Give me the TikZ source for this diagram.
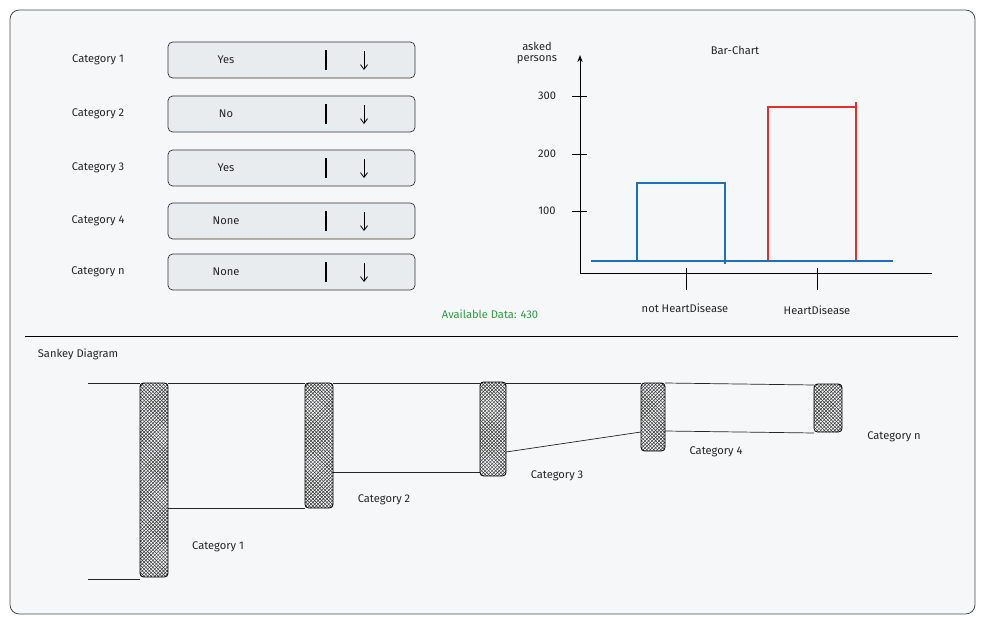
\documentclass[tikz,border=0pt]{standalone}
\usepackage{fontspec}
\setmainfont{Fira Sans}
\usetikzlibrary{patterns,arrows.meta}
\definecolor{bg}{HTML}{F6F7F8}
\definecolor{boxfill}{HTML}{E9ECEF}
\definecolor{blu}{HTML}{1971C2}
\definecolor{rd}{HTML}{E03131}
\definecolor{grn}{HTML}{2F9E44}
\begin{document}
\begin{tikzpicture}[x=0.03cm,y=-0.03cm,
  txt/.style={font=\fontsize{9.5}{11}\selectfont,text=black!85},
  dd/.style={draw=black!80,fill=boxfill,rounded corners=4pt,line width=0.6pt},
  sbar/.style={draw=black,rounded corners=3pt,line width=0.7pt,pattern=crosshatch,pattern color=black!80},
  ln/.style={draw=black!85,line width=0.6pt}]
\useasboundingbox (0,0) rectangle (990,629);
\draw[draw=black!70,fill=bg,rounded corners=8pt,line width=0.7pt] (10,10) rectangle (975,614);
% dropdowns
\foreach \y/\c/\v [count=\i] in {60/1/Yes,114/2/No,168/3/Yes,221/4/None,272/n/None}{
  \node[dd,minimum width=247*0.03cm,minimum height=36*0.03cm] (d\i) at (291.5,\y) {};
  \node[txt] (l\i) at (98,\y) {Category \c};
  \node[txt] (v\i) at (226,\y) {\v};
  \draw[line width=0.9pt] (326,\y-10) -- (326,\y+10);
  \draw[-{Straight Barb[length=4pt,width=6pt]},line width=0.7pt] (364,\y-9) -- (364,\y+10);
}
% chart
\draw[-{Stealth[length=6pt]},line width=0.8pt] (580,273) -- (580,55);
\draw[line width=0.8pt] (580,273) -- (932,273);
\foreach \y/\t in {96/300,154/200,211/100}{
  \draw[line width=0.7pt] (572,\y) -- (587,\y);
  \node[txt] at (547,\y) {\t};
}
\node[txt,align=center] (ax) at (537,53) {asked\\[-2pt]persons};
\node[txt] (bc) at (735,50) {Bar-Chart};
\draw[blu,line width=0.9pt] (637,262) -- (637,183) -- (725,183) -- (725,264);
\draw[rd,line width=0.9pt] (768,262) -- (768,107) -- (856,107) -- (856,262);
\draw[rd,line width=0.9pt] (856,102) -- (856,112);
\draw[blu,line width=0.9pt] (591,261) -- (893,261);
\draw[line width=0.8pt] (686,268) -- (686,290);
\draw[line width=0.8pt] (817,268) -- (817,290);
\node[txt] (x1) at (685,308) {not HeartDisease};
\node[txt] (x2) at (817,310) {HeartDisease};
\node[txt,text=grn] (av) at (490,314) {Available Data: 430};
\draw[line width=0.8pt] (25,336) -- (958,336);
% sankey
\node[txt] (st) at (78,354) {Sankey Diagram};
\draw[ln] (88,383) -- (140,383);
\draw[ln] (88,579) -- (140,579);
\draw[ln] (168,383) -- (305,383);
\draw[ln] (168,508) -- (305,508);
\draw[ln] (333,383) -- (480,383);
\draw[ln] (333,472) -- (480,472);
\draw[ln] (506,383) -- (641,383);
\draw[ln] (506,452) -- (641,432);
\draw[ln] (665,383) -- (814,385);
\draw[ln] (665,431) -- (814,433);
\draw[sbar] (140,383) rectangle (168,577);
\draw[sbar] (305,383) rectangle (333,508);
\draw[sbar] (480,382) rectangle (506,476);
\draw[sbar] (641,383) rectangle (665,451);
\draw[sbar] (814,384) rectangle (842,432);
\node[txt] (s1) at (218,547) {Category 1};
\node[txt] (s2) at (384,500) {Category 2};
\node[txt] (s3) at (557,476) {Category 3};
\node[txt] (s4) at (716,452) {Category 4};
\node[txt] (s5) at (894,437) {Category n};
\end{tikzpicture}
\end{document}
